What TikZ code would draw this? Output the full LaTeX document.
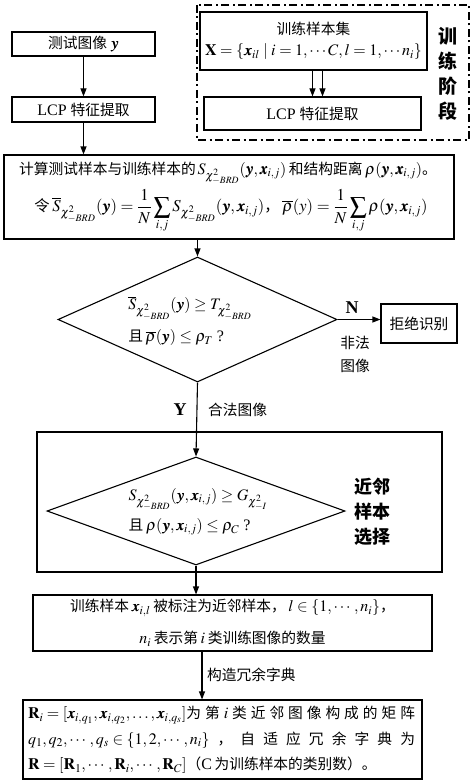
\documentclass[tikz,border=0pt]{standalone}
\usepackage{amsmath,amssymb}
\usepackage{mathptmx}
\usepackage{bm}
\usepackage{fontspec}
\setmainfont{Liberation Serif}
\newfontfamily\cjk[Scale=0.92]{Noto Sans CJK SC}
\newfontfamily\cjkb{Noto Sans CJK SC}
\usetikzlibrary{arrows.meta,shapes.geometric}
\newcommand{\zh}[1]{{\cjk #1}}
\newcommand{\chib}{\chi^{2}_{-BRD}}
\begin{document}
\begin{tikzpicture}[x=1pt,y=-1pt,
  every node/.style={font=\fontsize{16}{19}\selectfont, inner sep=0pt},
  box/.style={draw, line width=1.1pt},
  diam/.style={draw, diamond, line width=1.1pt, inner sep=0pt},
  arr/.style={-{Triangle[length=8pt,width=6pt]}, line width=1.1pt},
  dashdot/.style={line width=2.2pt, dash pattern=on 8pt off 3.5pt on 2pt off 3.5pt},
  yn/.style={font=\bfseries\fontsize{18}{18}\selectfont},
  stagefont/.style={font=\cjkb\bfseries\fontsize{19}{25}\selectfont, align=center}]
\useasboundingbox (0,0) rectangle (474,781);

% test branch
\node[box, minimum width=143pt, minimum height=24pt] (test) at (83.5,44) {\zh{测试图像} $\bm{y}$};
\node[box, minimum width=143pt, minimum height=25pt] (lcpa) at (83.5,109.5) {LCP \zh{特征提取}};

% training stage
\node[box, minimum width=227pt, minimum height=58pt, align=center, font=\fontsize{16}{21}\selectfont] (train) at (313.5,41)
  {\zh{训练样本集}\\ $\mathbf{X}=\{\bm{x}_{il}\mid i=1,\cdots C,l=1,\cdots n_i\}$};
\node[box, minimum width=217pt, minimum height=33pt] (lcpb) at (312.5,113.5) {LCP \zh{特征提取}};
\draw[dashdot] (197,5) rectangle (469,140);
\node[stagefont] (stage) at (448,74) {训\\练\\阶\\段};

% calculation box
\node[box, minimum width=450pt, minimum height=84pt] (calc) at (229,197) {};
\node (calct1) at (228,173) {\zh{计算测试样本与训练样本的}$\,S_{\chib}(\bm{y},\bm{x}_{i,j})$\,\zh{和结构距离}\,$\rho(\bm{y},\bm{x}_{i,j})$\zh{。}};
\node[font=\fontsize{16.6}{19}\selectfont] (calct2) at (231,211) {\zh{令}\,$\displaystyle\overline{S}_{\chib}(\bm{y})=\frac{1}{N}\sum_{i,j}S_{\chib}(\bm{y},\bm{x}_{i,j})$\zh{，}\,$\displaystyle\overline{\rho}(y)=\frac{1}{N}\sum_{i,j}\rho(\bm{y},\bm{x}_{i,j})$};

% decision 1
\node[diam, minimum width=279pt, minimum height=125pt] (d1) at (197.5,319.5) {};
\node[align=left, font=\fontsize{16}{32}\selectfont] (d1t) at (190,321)
  {$\overline{S}_{\chib}(\bm{y})\ge T_{\chib}$\\ \zh{且}\,$\overline{\rho}(\bm{y})\le\rho_T$ ?};
\node[yn] (nlab) at (352,308) {N};
\node[box, minimum width=76pt, minimum height=39pt] (rej) at (419,323.5) {\zh{拒绝识别}};
\node[align=center, font=\fontsize{16}{23}\selectfont] (ill) at (355,354) {\zh{非法}\\\zh{图像}};
\node[yn] (ylab) at (180,410) {Y};
\node[anchor=west] (legal) at (208,410) {\zh{合法图像}};

% neighbour selection
\node[draw, line width=2pt, minimum width=405pt, minimum height=140pt] (nbr) at (239.5,502) {};
\node[diam, minimum width=298pt, minimum height=108pt] (d2) at (196,511) {};
\node[align=left, font=\fontsize{16}{30}\selectfont] (d2t) at (198,512)
  {$S_{\chib}(\bm{y},\bm{x}_{i,j})\ge G_{\chi^{2}_{-I}}$\\ \zh{且}\,$\rho(\bm{y},\bm{x}_{i,j})\le\rho_C$ ?};
\node[font=\cjkb\bfseries\fontsize{18}{25}\selectfont, align=center] (nbrlab) at (372,512) {近邻\\样本\\选择};

% marking box
\node[box, minimum width=399pt, minimum height=56pt, align=center, font=\fontsize{16}{32}\selectfont] (mark) at (232.5,623)
  {\zh{训练样本}\,$\bm{x}_{i,l}$\,\zh{被标注为近邻样本，}\,$l\in\{1,\cdots,n_i\}$\zh{，}\\ $n_i$\,\zh{表示第}\,$i$\,\zh{类训练图像的数量}};
\node[anchor=west] (build) at (207,675) {\zh{构造冗余字典}};

% dictionary box
\node[box, minimum width=399pt, minimum height=79pt] (dict) at (222.5,739.5) {};
\node[align=left, text width=387pt, font=\fontsize{16}{25.5}\selectfont] (dictt) at (221.5,740)
  {\leavevmode\hbox to 387pt{$\mathbf{R}_i=[\bm{x}_{i,q_1},\bm{x}_{i,q_2},\ldots,\bm{x}_{i,q_s}]$\cjk 为\hfil 第\hfil $i$\hfil 类\hfil 近\hfil 邻\hfil 图\hfil 像\hfil 构\hfil 成\hfil 的\hfil 矩\hfil 阵}\\
   \leavevmode\hbox to 387pt{$q_1,q_2,\cdots,q_s\in\{1,2,\cdots,n_i\}$\hfil\cjk ，\hfil 自\hfil 适\hfil 应\hfil 冗\hfil 余\hfil 字\hfil 典\hfil 为}\\
   \leavevmode\hbox to 387pt{$\mathbf{R}=[\mathbf{R}_1,\cdots,\mathbf{R}_i,\cdots,\mathbf{R}_C]$\zh{（}C\,\zh{为训练样本的类别数）。}\hfil}};

% connectors
\draw[arr] (test) -- (lcpa);
\draw[arr] ([xshift=-1pt]train.south) -- ([xshift=-1pt]train.south |- lcpb.north);
\draw[arr] ([xshift=9pt]train.south) -- ([xshift=9pt]train.south |- lcpb.north);
\draw[arr] (lcpa.south) -- (lcpa.south |- calc.north);
\draw[arr] (d1.north |- calc.south) -- (d1.north);
\draw[arr] (d1.east) -- (d1.east -| rej.west);
\draw[arr] (d1.south) -- (d2.north);
\draw[arr] (d2.south) -- (d2.south |- mark.north);
\draw[arr] ([xshift=-30.5pt]mark.south) -- ([xshift=-30.5pt]mark.south |- dict.north);
\end{tikzpicture}
\end{document}
